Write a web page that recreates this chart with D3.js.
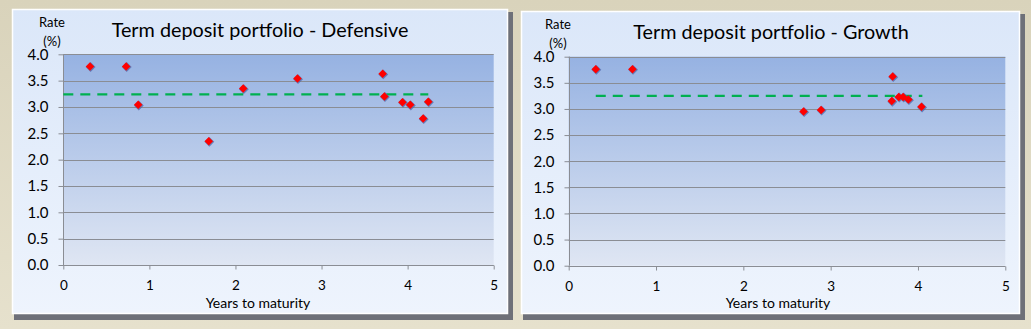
<!DOCTYPE html>
<html><head><meta charset="utf-8">
<script src="https://cdn.jsdelivr.net/npm/d3@7"></script>
<style>html,body{margin:0;padding:0;background:#e2dcc6;overflow:hidden}svg{display:block}</style>
</head><body>
<svg id="c" width="1031" height="329"></svg>
<script>
// ---- data ----
const yTicks = [0, 0.5, 1.0, 1.5, 2.0, 2.5, 3.0, 3.5, 4.0];
const xTicks = [0, 1, 2, 3, 4, 5];
const defensiveYears = [0.31, 0.73, 0.87, 1.69, 2.09, 2.72, 3.71, 3.73, 3.94, 4.03, 4.18, 4.24];
const defensiveRates = [3.77, 3.77, 3.04, 2.35, 3.35, 3.54, 3.63, 3.20, 3.09, 3.04, 2.78, 3.10];
const defensiveAvg = [[0, 3.24], [4.24, 3.24]];
const growthYears = [0.31, 0.73, 2.69, 2.89, 3.71, 3.70, 3.78, 3.83, 3.89, 4.04];
const growthRates = [3.76, 3.76, 2.95, 2.98, 3.62, 3.15, 3.23, 3.23, 3.18, 3.04];
const growthAvg = [[0.31, 3.25], [4.05, 3.25]];
const titles = ["Term deposit portfolio - Defensive", "Term deposit portfolio - Growth"];
const xTitle = "Years to maturity";
const yTitle = ["Rate", "(%)"];

const svg = d3.select("#c");
const defs = svg.append("defs");
const pg = defs.append("linearGradient").attr("id","plotGrad").attr("x1",0).attr("y1",0).attr("x2",0).attr("y2",1);
pg.append("stop").attr("offset","0%").attr("stop-color","#96b2e2");
pg.append("stop").attr("offset","100%").attr("stop-color","#dfe6f3");
const bg = defs.append("linearGradient").attr("id","panelGrad").attr("x1",0).attr("y1",0).attr("x2",0).attr("y2",1);
bg.append("stop").attr("offset","0%").attr("stop-color","#dbe7f9");
bg.append("stop").attr("offset","100%").attr("stop-color","#eef4fd");
const og = defs.append("linearGradient").attr("id","outerGrad").attr("x1",0).attr("y1",0).attr("x2",0).attr("y2",1);
og.append("stop").attr("offset","0%").attr("stop-color","#d9d3bb");
og.append("stop").attr("offset","100%").attr("stop-color","#e6e1cd");
svg.append("rect").attr("width",1031).attr("height",329).attr("fill","url(#outerGrad)");

const font = "Lato, 'Open Sans', sans-serif";

function panel(cfg) {
  const g = svg.append("g");
  // shadow
  g.append("rect").attr("x", cfg.bx + 2).attr("y", cfg.by + 3).attr("width", cfg.bw + 3).attr("height", cfg.bh + 3).attr("fill", "#6e7078");
  g.append("rect").attr("x", cfg.bx).attr("y", cfg.by).attr("width", cfg.bw).attr("height", cfg.bh).attr("fill", "url(#panelGrad)");
  g.append("rect").attr("x", cfg.bx + 0.5).attr("y", cfg.by + 0.5).attr("width", cfg.bw - 1).attr("height", cfg.bh - 1).attr("fill", "none").attr("stroke", "#ffffff").attr("stroke-width", 1.5);

  const x = d3.scaleLinear().domain([0, 5]).range([cfg.px0, cfg.px1]);
  const y = d3.scaleLinear().domain([0, 4]).range([cfg.py0, cfg.py1]);

  g.append("rect").attr("x", x(0)).attr("y", y(4)).attr("width", x(5) - x(0)).attr("height", y(0) - y(4)).attr("fill", "url(#plotGrad)");

  // gridlines
  g.append("g").selectAll("line").data(yTicks).join("line")
    .attr("x1", x(0)).attr("x2", x(5)).attr("y1", d => Math.round(y(d)) + 0.5).attr("y2", d => Math.round(y(d)) + 0.5)
    .attr("stroke", "#8a8d94").attr("stroke-width", 1);

  // axes
  const yAxis = d3.axisLeft(y).tickValues(yTicks).tickFormat(d3.format(".1f")).tickSize(5).tickPadding(10);
  const ya = g.append("g").attr("transform", `translate(${Math.round(x(0)) + 0.5},0)`).call(yAxis);
  ya.select(".domain").attr("stroke", "#8a8d94").attr("d", `M0,${y(4)}V${y(0)}`);
  ya.selectAll(".tick line").attr("stroke", "#8a8d94");
  ya.selectAll("text").attr("font-family", font).attr("font-size", 15).attr("fill", "#000");

  const xAxis = d3.axisBottom(x).tickValues(xTicks).tickFormat(d3.format("d")).tickSize(4).tickPadding(11);
  const xa = g.append("g").attr("transform", `translate(0,${Math.round(y(0)) + 0.5})`).call(xAxis);
  xa.select(".domain").attr("stroke", "#8a8d94").attr("d", `M${x(0)},0H${x(5)}`);
  xa.selectAll(".tick line").attr("stroke", "#8a8d94");
  xa.selectAll("text").attr("font-family", font).attr("font-size", 13.5).attr("fill", "#000");

  // average dashed line
  g.append("path").datum(cfg.avg)
    .attr("d", d3.line().x(d => x(d[0])).y(d => y(d[1])))
    .attr("stroke", "#00b050").attr("stroke-width", 2.2).attr("stroke-dasharray", "10,7").attr("fill", "none");

  // points
  const pts = cfg.xs.map((v, i) => [v, cfg.ys[i]]);
  g.append("g").selectAll("path.sh").data(pts).join("path")
    .attr("transform", d => `translate(${x(d[0]) + 0.6},${y(d[1]) + 0.6})`)
    .attr("d", d3.symbol().type(d3.symbolDiamond2).size(62)).attr("fill", "#4f66a8").attr("opacity", 0.75);
  g.append("g").selectAll("path.pt").data(pts).join("path")
    .attr("transform", d => `translate(${x(d[0])},${y(d[1])})`)
    .attr("d", d3.symbol().type(d3.symbolDiamond2).size(46)).attr("fill", "#ff0000");

  // titles
  g.append("text").attr("x", cfg.tx).attr("y", cfg.ty).attr("text-anchor", "middle")
    .attr("font-family", font).attr("font-size", 19.8).attr("fill", "#000").text(cfg.title);
  g.append("text").attr("x", cfg.xtx).attr("y", cfg.xty).attr("text-anchor", "middle")
    .attr("font-family", font).attr("font-size", 14).attr("fill", "#000").text(xTitle);
  g.append("text").attr("x", cfg.ytx).attr("y", cfg.yty).attr("text-anchor", "middle")
    .attr("font-family", font).attr("font-size", 13).attr("fill", "#000").text(yTitle[0]);
  g.append("text").attr("x", cfg.ytx).attr("y", cfg.yty + 19).attr("text-anchor", "middle")
    .attr("font-family", font).attr("font-size", 13).attr("fill", "#000").text(yTitle[1]);
}

panel({bx: 12, by: 9, bw: 496, bh: 305, px0: 63.3, px1: 493.7, py0: 265, py1: 54.3,
  xs: defensiveYears, ys: defensiveRates, avg: defensiveAvg, title: titles[0],
  tx: 260, ty: 37, xtx: 258, xty: 308, ytx: 52, yty: 27});
panel({bx: 521, by: 11, bw: 499, bh: 303, px0: 568.7, px1: 1005.3, py0: 265.7, py1: 56.7,
  xs: growthYears, ys: growthRates, avg: growthAvg, title: titles[1],
  tx: 771, ty: 39, xtx: 778, xty: 308, ytx: 558, yty: 29});
</script>
</body></html>
